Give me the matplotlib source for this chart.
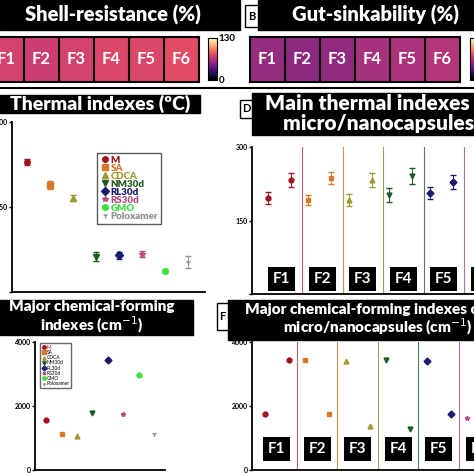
import numpy as np
import matplotlib.pyplot as plt
from matplotlib.patches import Rectangle

plt.rcParams['font.family'] = ['Lato', 'DejaVu Sans']

W = 474.0
fig = plt.figure(figsize=(4.74, 4.74), dpi=100)

def ax_px(x0, y0, x1, y1):
    # pixel box (top-left origin) -> figure axes
    return fig.add_axes([x0 / W, 1 - y1 / W, (x1 - x0) / W, (y1 - y0) / W])

def bar(x0, y0, x1, y1, text, size=11, tx=None, ha='center'):
    fig.patches.append(Rectangle((x0 / W, 1 - y1 / W), (x1 - x0) / W, (y1 - y0) / W,
                                 transform=fig.transFigure, color='black', zorder=0))
    cx = (x0 + x1) / 2 if tx is None else tx
    fig.text(cx / W, 1 - (y0 + y1) / 2 / W, text, color='white', fontsize=size,
             fontweight='heavy', ha=ha, va='center', linespacing=1.05, multialignment='center')

def letter(x0, y0, x1, y1, s):
    fig.patches.append(Rectangle((x0 / W, 1 - y1 / W), (x1 - x0) / W, (y1 - y0) / W,
                                 transform=fig.transFigure, facecolor='white', edgecolor='black', lw=1))
    fig.text((x0 + x1) / 2 / W, 1 - (y0 + y1) / 2 / W, s, fontsize=8, fontweight='bold',
             ha='center', va='center')

def style(ax, ticks, labels=None):
    ax.set_xticks([]); ax.set_yticks(ticks)
    if labels:
        ax.set_yticklabels(labels)
    ax.tick_params(labelsize=5, length=2, pad=1, width=1)
    for lab in ax.get_yticklabels():
        lab.set_fontweight('bold')
    for s in ['top', 'right']:
        ax.spines[s].set_visible(False)
    for s in ['left', 'bottom']:
        ax.spines[s].set_linewidth(1.3)

# ---- data ----
formulas = ['F1', 'F2', 'F3', 'F4', 'F5', 'F6']
shell_resistance = [74, 72, 74, 77, 77, 80]
gut_sinkability = [55, 52, 54, 60, 62, 64]

components = ['M', 'SA', 'CDCA', 'NM30d', 'RL30d', 'RS30d', 'GMO', 'Poloxamer']
comp_colors = ['#a0141e', '#d9782a', '#a09a30', '#1e5a1e', '#1a1a70', '#b84a80', '#3ce03c', '#909090']
comp_markers = ['o', 's', '^', 'v', 'D', '*', 'o', '1']
thermal = [229, 189, 166, 62, 65, 67, 37, 53]
thermal_err = [5, 7, 6, 8, 6, 5, 3, 10]
chemical = [1560, 1125, 1060, 1780, 3440, 1750, 2970, 1125]

caps_thermal_lo = [196, 192, 192, 202, 206]
caps_thermal_hi = [233, 237, 233, 241, 229]
caps_thermal_err = [12, 10, 12, 14, 12]
caps_chem_lo = [1750, 3440, 3400, 3440, 3400, 1625]
caps_chem_hi = [3440, 1750, 1375, 1280, 1750, 3440]

divider_colors = ['#c06060', '#d09050', '#a0a050', '#508050', '#b070b0', '#7070c0']

# ---- A / B heatmaps ----
bar(0, 0, 240, 30, 'Shell-resistance (%)', 14.5, tx=113)
letter(245, 5, 258, 27, 'B')
bar(258, 0, 474, 30, 'Gut-sinkability (%)', 14.5, tx=375)
fig.add_artist(plt.Line2D([0, 1], [1 - 88 / W] * 2, color='black', lw=1.5, transform=fig.transFigure))

for x0, vals in [(-11, shell_resistance), (250, gut_sinkability)]:
    ax = ax_px(x0, 37, x0 + 210, 82)
    ax.imshow([vals], cmap='magma', vmin=0, vmax=130, aspect='auto')
    for i, f in enumerate(formulas):
        ax.text(i, 0, f, color='white', fontsize=12, fontweight='bold', ha='center', va='center')
    for i in range(7):
        ax.axvline(i - 0.5, color='black', lw=1.5)
    ax.set_xticks([]); ax.set_yticks([])
    for s in ax.spines.values():
        s.set_linewidth(1.5)

for x0 in [208, 470]:
    cax = ax_px(x0, 38, x0 + 9, 80)
    cax.imshow(np.linspace(130, 0, 50)[:, None], cmap='magma', aspect='auto', extent=[0, 1, 0, 130])
    cax.set_xticks([])
    cax.yaxis.tick_right()
    cax.set_yticks([0, 130])
    cax.tick_params(labelsize=7, length=0, pad=1)
    for lab in cax.get_yticklabels():
        lab.set_fontweight('bold')

# ---- C ----
bar(0, 95, 200, 113, 'Thermal indexes (ºC)', 14, tx=100)
ax = ax_px(12, 122, 205, 292)
x = np.arange(1, 9)
for i in range(8):
    ax.errorbar(x[i], thermal[i], yerr=thermal_err[i], color=comp_colors[i], marker=comp_markers[i],
                ms=4, capsize=2, lw=0.7)
    ax.plot([], [], color=comp_colors[i], marker=comp_markers[i], ls='none', ms=4, label=components[i])
ax.set_xlim(0.35, 8.74); ax.set_ylim(0, 300)
style(ax, [0, 150, 300], ['', '150', '300'])
leg = ax.legend(loc='upper left', bbox_to_anchor=(0.44, 0.82), fontsize=7, handletextpad=0.1,
                labelspacing=-0.1, borderpad=0.3, fancybox=False, edgecolor='#333333',
                handlelength=1, borderaxespad=0)
for t, c in zip(leg.get_texts(), comp_colors):
    t.set_color(c); t.set_fontweight('heavy')

# ---- D ----
letter(240, 100, 252, 118, 'D')
bar(252, 93, 474, 135, 'Main thermal indexes of the\nmicro/nanocapsules (ºC)', 15, tx=265, ha='left')
ax = ax_px(252, 147, 252 + 40.5 * (6.5 - 0.265), 294)
ax.set_xlim(0.265, 6.5); ax.set_ylim(0, 300)
g = np.arange(1, 6)
for i in range(5):
    ax.errorbar(g[i] - 0.35, caps_thermal_lo[i], yerr=caps_thermal_err[i], color=comp_colors[i],
                marker=comp_markers[i], ms=3.5, capsize=2, lw=0.7)
    ax.errorbar(g[i] + 0.22, caps_thermal_hi[i], yerr=caps_thermal_err[i] + 2, color=comp_colors[i],
                marker=comp_markers[i], ms=3.5, capsize=2, lw=0.7)
for i in range(6):
    ax.axvline(i + 1.5, color=divider_colors[i], lw=0.8)
    ax.text(i + 1, 30, formulas[i], color='white', fontsize=11, fontweight='bold', ha='center',
            va='center', bbox=dict(facecolor='black', edgecolor='none', pad=3.5))
style(ax, [0, 150, 300], ['', '150', '300'])

# ---- E ----
bar(0, 300, 193, 335, 'Major chemical-forming\nindexes (cm$^{-1}$)', 11, tx=92)
ax = ax_px(35, 342, 165, 470)
for i in range(8):
    ax.plot(x[i], chemical[i], color=comp_colors[i], marker=comp_markers[i], ms=3.5,
            ls='none', label=components[i])
ax.set_xlim(0.28, 8.7); ax.set_ylim(0, 4000)
style(ax, [0, 2000, 4000])
leg = ax.legend(loc='upper left', bbox_to_anchor=(0.04, 0.99), fontsize=3.5, handletextpad=0.2,
                labelspacing=0.05, borderpad=0.3, fancybox=False, edgecolor='#444444',
                handlelength=0.8, borderaxespad=0, markerscale=0.7)
leg.get_texts()[0].set_color(comp_colors[0])

# ---- F ----
letter(217, 303, 228, 330, 'F')
bar(228, 300, 474, 340, 'Major chemical-forming indexes of the\nmicro/nanocapsules (cm$^{-1}$)', 11,
    tx=378)
ax = ax_px(252, 342, 252 + 40.5 * (6.5 - 0.39), 470)
ax.set_xlim(0.39, 6.5); ax.set_ylim(0, 4000)
g6 = np.arange(1, 7)
for i in range(6):
    ax.plot(g6[i] - 0.3, caps_chem_lo[i], color=comp_colors[i], marker=comp_markers[i], ms=3.5, ls='none')
    ax.plot(g6[i] + 0.3, caps_chem_hi[i], color=comp_colors[i], marker=comp_markers[i], ms=3.5, ls='none')
for i in range(6):
    ax.axvline(i + 1.5, color=divider_colors[i], lw=0.8)
    ax.text(i + 1, 650, formulas[i], color='white', fontsize=11, fontweight='bold', ha='center',
            va='center', bbox=dict(facecolor='black', edgecolor='none', pad=3.5))
style(ax, [0, 2000, 4000])

fig.savefig('out.png', dpi=100)
